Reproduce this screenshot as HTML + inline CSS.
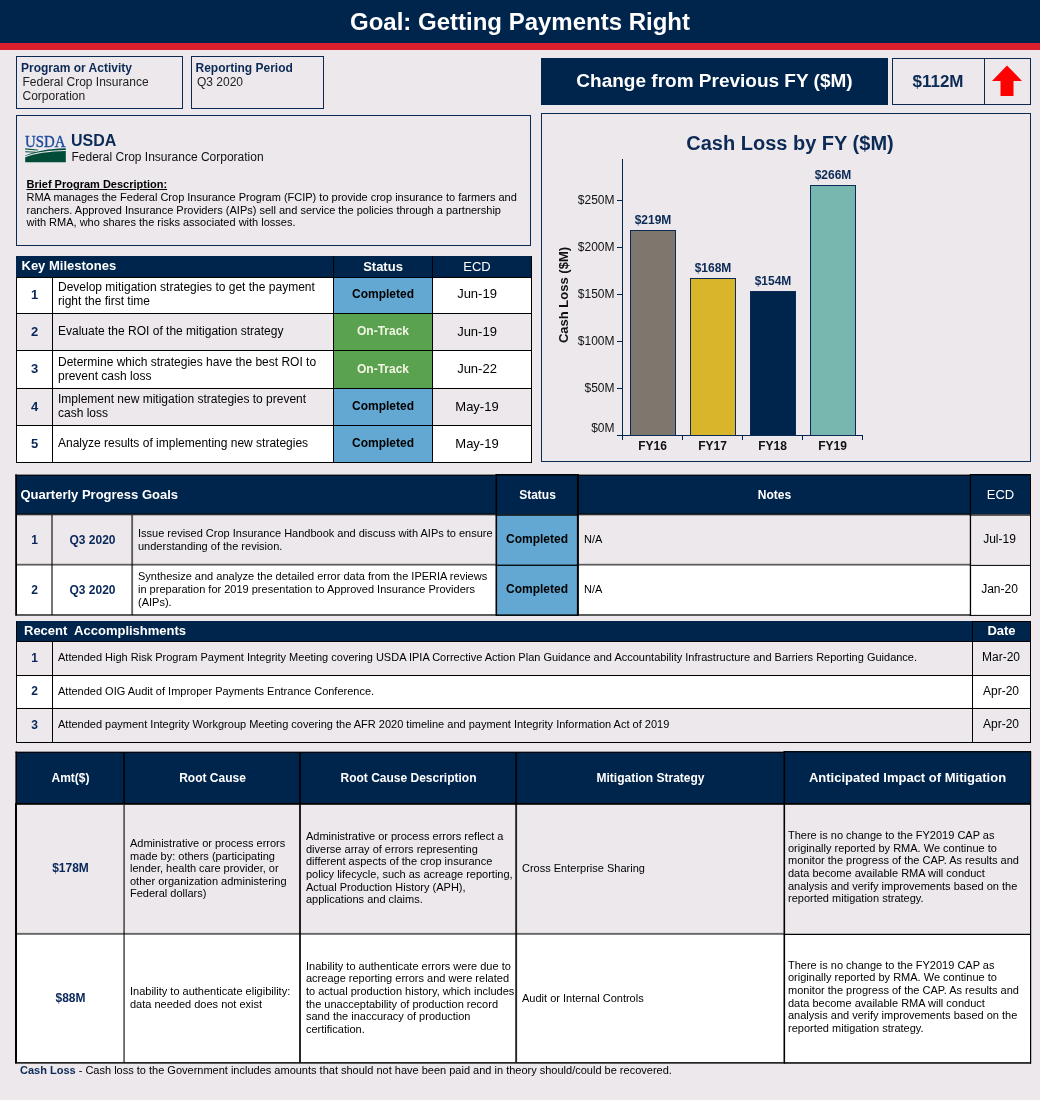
<!DOCTYPE html>
<html><head><meta charset="utf-8"><title>Goal: Getting Payments Right</title>
<style>
*{margin:0;padding:0;box-sizing:border-box}
html,body{width:1040px;height:1100px;overflow:hidden}
body{background:#ece8ec;font-family:"Liberation Sans",Arial,sans-serif;color:#000;position:relative;font-size:11px;line-height:1.15}
.a{position:absolute}
.navy{background:#00254d;color:#fff}
.nb{border:1px solid #0a2a52}
.b{font-weight:bold}
.c{position:absolute;display:flex;align-items:center;border:1px solid #000}
.cc{justify-content:center;text-align:center}
.w{background:#fff}
.g{background:#ece8ec}
.blue{background:#62a8d3}
.green{background:#5aa150;color:#f3f6e4}
.n{color:#08265a;font-weight:bold;font-size:12px}
.n13{font-size:13px}
.km{padding-bottom:2px}
.q{border-color:transparent}
.ecd{padding-right:10px}
.t12{font-size:12px}.t13{font-size:13px}.t11{font-size:11px}
.h{color:#fff;font-weight:bold}
</style></head><body>
<!-- header -->
<div class="a navy" style="left:0;top:0;width:1040px;height:43px"></div>
<div class="a" style="left:0;top:43px;width:1040px;height:7px;background:#dc1e2e"></div>
<div class="a b" style="left:0;top:8px;width:1040px;text-align:center;color:#fff;font-size:24px;line-height:28px">Goal: Getting Payments Right</div>

<!-- info boxes -->
<div class="a nb" style="left:16px;top:56px;width:167px;height:53px"></div>
<div class="a b" style="left:21px;top:61px;font-size:12px;color:#0b2a55;line-height:14px">Program or Activity</div>
<div class="a" style="left:22.5px;top:75px;font-size:12px;color:#222;line-height:14px;width:150px">Federal Crop Insurance Corporation</div>
<div class="a nb" style="left:191px;top:56px;width:133px;height:53px"></div>
<div class="a b" style="left:195.5px;top:61px;font-size:12px;color:#0b2a55;line-height:14px">Reporting Period</div>
<div class="a" style="left:197px;top:75px;font-size:12px;color:#222;line-height:14px">Q3 2020</div>

<!-- change box -->
<div class="a navy b cc" style="left:541px;top:58px;width:347px;height:47px;display:flex;align-items:center;font-size:19px;padding-bottom:1px">Change from Previous FY ($M)</div>
<div class="a nb" style="left:892px;top:58px;width:139px;height:47px"></div>
<div class="a" style="left:984px;top:58px;width:1px;height:47px;background:#0a2a52"></div>
<div class="a b cc" style="left:892px;top:58px;width:92px;height:47px;display:flex;align-items:center;font-size:17px;color:#0b2a55">$112M</div>
<svg class="a" style="left:984px;top:58px" width="47" height="47" viewBox="984 58 47 47"><polygon points="1007,65.5 1022,81 1013.5,81 1013.5,96 1000.5,96 1000.5,81 992,81" fill="#fe0000"/></svg>

<!-- USDA box -->
<div class="a nb" style="left:16px;top:115px;width:515px;height:131px"></div>
<svg class="a" style="left:25px;top:133px" width="42" height="31" viewBox="25 133 42 31">
<text x="25" y="146.6" font-family="Liberation Serif,serif" font-size="16.6" fill="#1c4c9e" stroke="#1c4c9e" stroke-width=".4" textLength="40.4" lengthAdjust="spacingAndGlyphs">USDA</text>
<g fill="#004c39">
<path d="M25.2 157.2 C34 153.6 49 151.3 65.8 151 L65.8 162.3 L25.2 162.3Z"/>
<path d="M25.2 155.4 C35 151.2 49 148.6 65.8 148.2 L65.8 150.1 C49 150.4 35 152.3 25.2 156.1Z"/>
<path d="M25.2 148.3 L38.5 149.8 L37.5 150.6 L25.2 149.4Z"/>
<path d="M25.2 151.2 L36 151.8 L34 152.6 L25.2 152.2Z"/>
</g>
</svg>
<div class="a b" style="left:71px;top:132px;font-size:16px;color:#0b2a55;line-height:18px">USDA</div>
<div class="a" style="left:71.5px;top:149.5px;font-size:12px;line-height:14px;color:#111">Federal Crop Insurance Corporation</div>
<div class="a b" style="left:26.5px;top:178px;font-size:11px;line-height:12.5px;text-decoration:underline">Brief Program Description:</div>
<div class="a" style="left:26.5px;top:190.5px;font-size:11px;line-height:12.5px;white-space:nowrap">RMA manages the Federal Crop Insurance Program (FCIP) to provide crop insurance to farmers and</div>
<div class="a" style="left:26.5px;top:204px;font-size:11px;line-height:12.5px;white-space:nowrap">ranchers. Approved Insurance Providers (AIPs) sell and service the policies through a partnership</div>
<div class="a" style="left:26.5px;top:215.5px;font-size:11px;line-height:12.5px;white-space:nowrap">with RMA, who shares the risks associated with losses.</div>

<!-- chart -->
<div class="a nb" style="left:541px;top:113px;width:490px;height:349px"></div>
<svg class="a" style="left:541px;top:113px" width="490" height="349" viewBox="541 113 490 349" font-family="Liberation Sans,Arial,sans-serif">
<text x="790" y="150" text-anchor="middle" font-size="20" font-weight="bold" fill="#0b2a55">Cash Loss by FY ($M)</text>
<g fill="#00254d">
<rect x="622" y="159" width="1" height="281"/>
<rect x="617" y="435" width="246" height="1"/>
<rect x="617" y="200" width="5" height="1"/><rect x="617" y="247" width="5" height="1"/><rect x="617" y="294" width="5" height="1"/><rect x="617" y="341" width="5" height="1"/><rect x="617" y="388" width="5" height="1"/>
<rect x="682" y="435" width="1" height="5"/><rect x="742" y="435" width="1" height="5"/><rect x="802" y="435" width="1" height="5"/><rect x="862" y="435" width="1" height="5"/>
</g>
<g font-size="12" fill="#111" text-anchor="end">
<text x="614.5" y="203.8">$250M</text><text x="614.5" y="250.8">$200M</text><text x="614.5" y="297.8">$150M</text><text x="614.5" y="344.8">$100M</text><text x="614.5" y="391.8">$50M</text><text x="614.5" y="432">$0M</text>
</g>
<g stroke="#0b2a55" stroke-width="1">
<rect x="630.5" y="230.5" width="45" height="205" fill="#7f776e"/>
<rect x="690.5" y="278.5" width="45" height="157" fill="#d8b52a"/>
<rect x="750.5" y="291.5" width="45" height="144" fill="#00254d"/>
<rect x="810.5" y="185.5" width="45" height="250" fill="#78b6b0"/>
</g>
<g font-size="12" font-weight="bold" fill="#0b2a55" text-anchor="middle">
<text x="653" y="224">$219M</text><text x="713" y="272">$168M</text><text x="773" y="285">$154M</text><text x="833" y="179">$266M</text>
</g>
<g font-size="12" font-weight="bold" fill="#111" text-anchor="middle">
<text x="652.5" y="450">FY16</text><text x="712.5" y="450">FY17</text><text x="772.5" y="450">FY18</text><text x="832.5" y="450">FY19</text>
</g>
<text transform="translate(568.2,295) rotate(-90)" text-anchor="middle" font-size="13" font-weight="bold" fill="#111">Cash Loss ($M)</text>
</svg>

<!-- Key milestones -->
<div class="a navy" style="left:16px;top:256px;width:516px;height:22px"></div>
<div class="a h t13" style="left:21.5px;top:258px;line-height:15px">Key Milestones</div>
<div class="c cc navy h t13" style="left:333px;top:256px;width:100px;height:22px;border-color:#00254d #000 #000 #000">Status</div>
<div class="c ecd cc navy t13" style="left:432px;top:256px;width:100px;height:22px;border-color:#00254d #000 #000 #000;color:#fff">ECD</div>

<div class="c cc w n n13" style="left:16px;top:277px;width:37px;height:37px">1</div>
<div class="c km w t12" style="left:52px;top:277px;width:282px;height:37px;padding-left:5px">Develop mitigation strategies to get the payment<br>right the first time</div>
<div class="c km cc blue b t12" style="left:333px;top:277px;width:100px;height:37px">Completed</div>
<div class="c km ecd cc w t13" style="left:432px;top:277px;width:100px;height:37px">Jun-19</div>

<div class="c cc g n n13" style="left:16px;top:313px;width:37px;height:38px">2</div>
<div class="c g t12" style="left:52px;top:313px;width:282px;height:38px;padding-left:5px">Evaluate the ROI of the mitigation strategy</div>
<div class="c cc green b t12" style="left:333px;top:313px;width:100px;height:38px">On-Track</div>
<div class="c ecd cc g t13" style="left:432px;top:313px;width:100px;height:38px">Jun-19</div>

<div class="c cc w n n13" style="left:16px;top:350px;width:37px;height:39px">3</div>
<div class="c w t12" style="left:52px;top:350px;width:282px;height:39px;padding-left:5px">Determine which strategies have the best ROI to<br>prevent cash loss</div>
<div class="c cc green b t12" style="left:333px;top:350px;width:100px;height:39px">On-Track</div>
<div class="c ecd cc w t13" style="left:432px;top:350px;width:100px;height:39px">Jun-22</div>

<div class="c cc g n n13" style="left:16px;top:388px;width:37px;height:38px">4</div>
<div class="c g t12" style="left:52px;top:388px;width:282px;height:38px;padding-left:5px">Implement new mitigation strategies to prevent<br>cash loss</div>
<div class="c cc blue b t12" style="left:333px;top:388px;width:100px;height:38px">Completed</div>
<div class="c ecd cc g t13" style="left:432px;top:388px;width:100px;height:38px">May-19</div>

<div class="c cc w n n13" style="left:16px;top:425px;width:37px;height:38px">5</div>
<div class="c w t12" style="left:52px;top:425px;width:282px;height:38px;padding-left:5px">Analyze results of implementing new strategies</div>
<div class="c cc blue b t12" style="left:333px;top:425px;width:100px;height:38px">Completed</div>
<div class="c ecd cc w t13" style="left:432px;top:425px;width:100px;height:38px">May-19</div>

<!-- Quarterly -->
<div class="a navy" style="left:16px;top:475px;width:1015px;height:40px;"></div>
<div class="a h t13" style="left:20.5px;top:486.5px;line-height:15px">Quarterly Progress Goals</div>
<div class="c q cc navy h t12" style="left:496px;top:474px;width:83px;height:41px;padding-top:2px">Status</div>
<div class="a h t12" style="left:578px;top:488px;width:393px;text-align:center;line-height:15px">Notes</div>
<div class="c q cc navy t13" style="left:970px;top:474px;width:61px;height:41px;color:#fff;padding-top:1px">ECD</div>

<div class="c q cc g n" style="left:16px;top:514px;width:37px;height:52px;padding-top:2px">1</div>
<div class="c q cc g n" style="left:52px;top:514px;width:81px;height:52px;padding-top:2px">Q3 2020</div>
<div class="c q g t11" style="left:132px;top:514px;width:365px;height:52px;padding-left:5px;white-space:nowrap;line-height:13px">Issue revised Crop Insurance Handbook and discuss with AIPs to ensure<br>understanding of the revision.</div>
<div class="c q cc blue b t12" style="left:496px;top:514px;width:83px;height:52px;padding-right:1px">Completed</div>
<div class="c q g t11" style="left:578px;top:514px;width:393px;height:52px;padding-left:5px;padding-bottom:1px">N/A</div>
<div class="c q cc g t12" style="left:970px;top:514px;width:61px;height:52px;padding-right:2px">Jul-19</div>

<div class="c q cc w n" style="left:16px;top:565px;width:37px;height:51px">2</div>
<div class="c q cc w n" style="left:52px;top:565px;width:81px;height:51px">Q3 2020</div>
<div class="c q w t11" style="left:132px;top:565px;width:365px;height:51px;padding-left:5px;padding-bottom:2px;white-space:nowrap;line-height:13px">Synthesize and analyze the detailed error data from the IPERIA reviews<br>in preparation for 2019 presentation to Approved Insurance Providers<br>(AIPs).</div>
<div class="c q cc blue b t12" style="left:496px;top:565px;width:83px;height:51px;padding-right:1px;padding-bottom:1px">Completed</div>
<div class="c q w t11" style="left:578px;top:565px;width:393px;height:51px;padding-left:5px;padding-bottom:2px">N/A</div>
<div class="c q cc w t12" style="left:970px;top:565px;width:61px;height:51px;padding-right:2px;padding-bottom:1px">Jan-20</div>

<svg class="a" style="left:0;top:470px" width="1040" height="150" viewBox="0 470 1040 150">
<g fill="#000" fill-opacity=".6">
<rect x="51.1" y="515" width="1.8" height="100"/><rect x="131.2" y="515" width="1.9" height="100"/>
<rect x="17" y="563.8" width="478.5" height="1.8"/><rect x="579" y="563.8" width="391" height="1.8"/>
</g>
<g fill="#000" fill-opacity=".8">
<rect x="15.2" y="474.5" width="480.5" height="1.4"/><rect x="578.8" y="474.5" width="391" height="1.4"/>
<rect x="17" y="513.4" width="478.5" height="1.9"/><rect x="579" y="513.4" width="391" height="1.9"/>
<rect x="17" y="614.2" width="478.5" height="1.6"/><rect x="579" y="614.2" width="391" height="1.6"/>
</g>
<g fill="#000">
<rect x="15.2" y="474.5" width="1.8" height="141.3"/>
<rect x="495.5" y="474.1" width="1.6" height="141.8"/><rect x="576.9" y="474.1" width="2" height="141.8"/>
<rect x="495.5" y="474.1" width="83" height="1.4"/><rect x="495.5" y="514.2" width="83" height="1.5"/><rect x="495.5" y="564.6" width="83" height="1.3"/><rect x="495.5" y="614.4" width="83" height="1.5"/>
<rect x="969.8" y="474.1" width="1.3" height="141.8"/><rect x="1030" y="474.1" width="1" height="141.8"/>
<rect x="969.8" y="474.1" width="61" height="1.3"/><rect x="969.8" y="514.3" width="61" height="1.3"/><rect x="969.8" y="564.9" width="61" height="1"/><rect x="969.8" y="614.9" width="61" height="1"/>
</g>
</svg>

<!-- Accomplishments -->
<div class="a navy" style="left:16px;top:621px;width:1015px;height:21px;border:1px solid #000;border-bottom:none;border-top-color:#00254d"></div>
<div class="a h t13" style="left:24px;top:623px;line-height:15px;white-space:pre">Recent  Accomplishments</div>
<div class="c cc navy h t13" style="left:972px;top:621px;width:59px;height:21px">Date</div>

<div class="c cc g n" style="left:16px;top:641px;width:37px;height:35px">1</div>
<div class="c g t11" style="left:52px;top:641px;width:921px;height:35px;padding-left:5px;padding-bottom:2px">Attended High Risk Program Payment Integrity Meeting covering USDA IPIA Corrective Action Plan Guidance and Accountability Infrastructure and Barriers Reporting Guidance.</div>
<div class="c cc g t12" style="left:972px;top:641px;width:59px;height:35px;padding-bottom:2px;padding-right:1px">Mar-20</div>

<div class="c cc w n" style="left:16px;top:675px;width:37px;height:34px">2</div>
<div class="c w t11" style="left:52px;top:675px;width:921px;height:34px;padding-left:5px;padding-bottom:2px">Attended OIG Audit of Improper Payments Entrance Conference.</div>
<div class="c cc w t12" style="left:972px;top:675px;width:59px;height:34px;padding-right:1px">Apr-20</div>

<div class="c cc g n" style="left:16px;top:708px;width:37px;height:35px">3</div>
<div class="c g t11" style="left:52px;top:708px;width:921px;height:35px;padding-left:5px;padding-bottom:2px">Attended payment Integrity Workgroup Meeting covering the AFR 2020 timeline and payment Integrity Information Act of 2019</div>
<div class="c cc g t12" style="left:972px;top:708px;width:59px;height:35px;padding-bottom:2px;padding-right:1px">Apr-20</div>

<!-- Bottom table -->
<div class="c q cc navy h t12" style="left:16px;top:752px;width:109px;height:52px;padding-top:2px">Amt($)</div>
<div class="c q cc navy h t12" style="left:124px;top:752px;width:177px;height:52px;padding-top:2px">Root Cause</div>
<div class="c q cc navy h t12" style="left:300px;top:752px;width:217px;height:52px;padding-top:2px">Root Cause Description</div>
<div class="c q cc navy h t12" style="left:516px;top:752px;width:269px;height:52px;padding-top:2px">Mitigation Strategy</div>
<div class="c q cc navy h t13" style="left:784px;top:751px;width:247px;height:53px;padding-top:1px">Anticipated Impact of Mitigation</div>

<div class="c q cc g n" style="left:16px;top:803px;width:109px;height:131px;padding-top:1px">$178M</div>
<div class="c q g t11" style="left:124px;top:803px;width:177px;height:131px;padding-left:5px">Administrative or process errors<br>made by: others (participating<br>lender, health care provider, or<br>other organization administering<br>Federal dollars)</div>
<div class="c q g t11" style="left:300px;top:803px;width:217px;height:131px;padding-left:5px;padding-bottom:1px;white-space:nowrap">Administrative or process errors reflect a<br>diverse array of errors representing<br>different aspects of the crop insurance<br>policy lifecycle, such as acreage reporting,<br>Actual Production History (APH),<br>applications and claims.</div>
<div class="c q g t11" style="left:516px;top:803px;width:269px;height:131px;padding-left:5px">Cross Enterprise Sharing</div>
<div class="c q g t11" style="left:784px;top:803px;width:247px;height:131px;padding-left:3px;padding-bottom:3px">There is no change to the FY2019 CAP as<br>originally reported by RMA. We continue to<br>monitor the progress of the CAP. As results and<br>data become available RMA will conduct<br>analysis and verify improvements based on the<br>reported mitigation strategy.</div>

<div class="c q cc w n" style="left:16px;top:933px;width:109px;height:130px;padding-top:1px">$88M</div>
<div class="c q w t11" style="left:124px;top:933px;width:177px;height:130px;padding-left:5px">Inability to authenticate eligibility:<br>data needed does not exist</div>
<div class="c q w t11" style="left:300px;top:933px;width:217px;height:130px;padding-left:5px;padding-bottom:1px;white-space:nowrap">Inability to authenticate errors were due to<br>acreage reporting errors and were related<br>to actual production history, which includes<br>the unacceptability of production record<br>sand the inaccuracy of production<br>certification.</div>
<div class="c q w t11" style="left:516px;top:933px;width:269px;height:130px;padding-left:5px">Audit or Internal Controls</div>
<div class="c q w t11" style="left:784px;top:933px;width:247px;height:130px;padding-left:3px;padding-bottom:3px">There is no change to the FY2019 CAP as<br>originally reported by RMA. We continue to<br>monitor the progress of the CAP. As results and<br>data become available RMA will conduct<br>analysis and verify improvements based on the<br>reported mitigation strategy.</div>

<svg class="a" style="left:0;top:745px" width="1040" height="325" viewBox="0 745 1040 325">
<g fill="#000" fill-opacity=".6">
<rect x="123.2" y="805" width="1.8" height="257.5"/>
<rect x="17" y="932.9" width="766.5" height="1.9"/>
</g>
<g fill="#000" fill-opacity=".85">
<rect x="123.2" y="752" width="1.8" height="51"/>
<rect x="299" y="752" width="2" height="310.5"/>
<rect x="515.2" y="752" width="1.9" height="310.5"/>
<rect x="15.5" y="751.6" width="768" height="1.4"/>
<rect x="17" y="1062" width="766.5" height="1.7"/>
</g>
<g fill="#000">
<rect x="15.4" y="751.6" width="1.6" height="52"/><rect x="15" y="803" width="2" height="260.7"/>
<rect x="15" y="803" width="1016" height="1.8"/>
<rect x="783.5" y="751.2" width="1.6" height="312.5"/><rect x="1030" y="751.2" width="1.2" height="312.5"/>
<rect x="783.5" y="751.2" width="247.5" height="1.2"/>
<rect x="783.5" y="933.7" width="247.5" height="1.3"/>
<rect x="783.5" y="1062.2" width="247.5" height="1.5"/>
</g>
</svg>
<div class="a t11" style="left:20px;top:1064px;line-height:13px;white-space:nowrap"><span class="b" style="color:#0b2a55">Cash Loss</span> - Cash loss to the Government includes amounts that should not have been paid and in theory should/could be recovered.</div>
</body></html>
